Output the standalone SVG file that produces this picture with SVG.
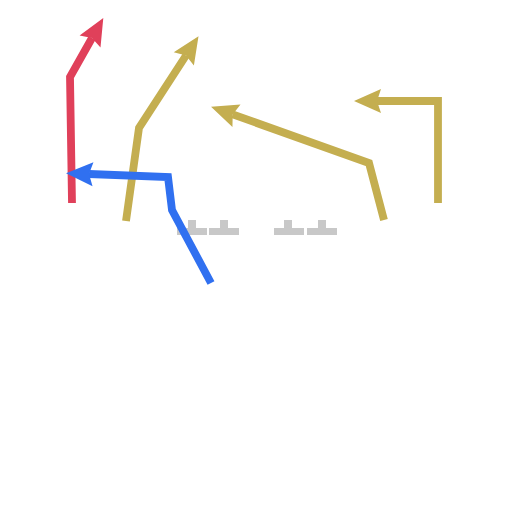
<svg xmlns="http://www.w3.org/2000/svg" width="512" height="512" viewBox="0 0 512 512">
<defs>
<style>
.c{fill:none;stroke-width:7.8;stroke-linejoin:miter;stroke-linecap:butt}
.red{stroke:#e0405a}.gold{stroke:#c4ae50}.blue{stroke:#3070f0}
.t{fill:#c8c8c8}
</style>
<marker id="ar" markerUnits="userSpaceOnUse" viewBox="-4 -12 27 24" refX="0" refY="0" markerWidth="27" markerHeight="24" orient="auto" overflow="visible"><path d="M23,0 L-4,-12 L0,0 L-4,12 z" fill="#e0405a"/></marker>
<marker id="ag" markerUnits="userSpaceOnUse" viewBox="-4 -12 27 24" refX="0" refY="0" markerWidth="27" markerHeight="24" orient="auto" overflow="visible"><path d="M23,0 L-4,-12 L0,0 L-4,12 z" fill="#c4ae50"/></marker>
<marker id="ab" markerUnits="userSpaceOnUse" viewBox="-4 -12 27 24" refX="0" refY="0" markerWidth="27" markerHeight="24" orient="auto" overflow="visible"><path d="M23,0 L-4,-12 L0,0 L-4,12 z" fill="#3070f0"/></marker>
</defs>
<g id="nodes">
<g id="n1"><rect class="t" x="177" y="228" width="30" height="7"/><rect class="t" x="188" y="220" width="8" height="9"/></g>
<g id="n2"><rect class="t" x="209" y="228" width="30" height="7"/><rect class="t" x="220" y="220" width="8" height="9"/></g>
<g id="n3"><rect class="t" x="274" y="228" width="30" height="7"/><rect class="t" x="284" y="220" width="8" height="9"/></g>
<g id="n4"><rect class="t" x="307" y="228" width="30" height="7"/><rect class="t" x="318" y="220" width="8" height="9"/></g>
</g>
<g id="connectors">
<polyline class="c red" points="72,203 70,77 92,38" marker-end="url(#ar)"/>
<polyline class="c gold" points="126,221 139,128 186,55.5" marker-end="url(#ag)"/>
<polyline class="c blue" points="211,283 172,210 168,177 89,174" marker-end="url(#ab)"/>
<polyline class="c gold" points="384,220 369,163 232.7,114.4" marker-end="url(#ag)"/>
<polyline class="c gold" points="438,203 438,101 377,101" marker-end="url(#ag)"/>
</g>
</svg>
